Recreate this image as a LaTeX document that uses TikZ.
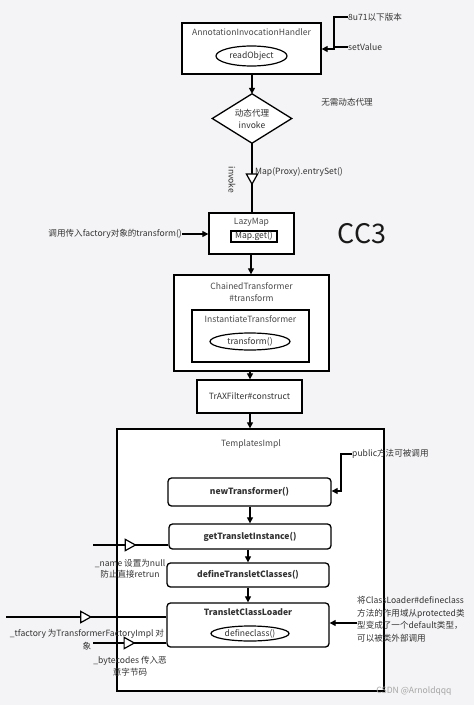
\documentclass[tikz,border=0pt]{standalone}
\usepackage{fontspec}
\setmainfont{Noto Sans CJK SC}
\usetikzlibrary{arrows.meta,shapes.geometric,decorations.markings,calc}
\definecolor{bg}{HTML}{F4F4F6}
\definecolor{txt}{HTML}{333333}
\definecolor{ttl}{HTML}{4A4A4A}
\begin{document}
\begin{tikzpicture}[x=1bp,y=-1bp,
  font=\fontsize{8.6}{11}\selectfont,
  every node/.style={text=txt},
  box/.style={draw=black, line width=1.3bp, fill=white, inner sep=0pt},
  rbox/.style={box, rounded corners=3.5bp, font=\fontsize{8.6}{11}\selectfont\bfseries},
  ell/.style={draw=black, line width=1.2bp, fill=white, ellipse, inner sep=0pt},
  ttlnode/.style={text=ttl, inner sep=0pt},
  arr/.style={line width=1.2bp, -{Triangle[length=6bp,width=6bp]}},
  ln/.style={line width=1.2bp},
  midtri/.style={ln, postaction={decorate}, decoration={markings,
     mark=at position #1 with {\arrow{Triangle[length=12bp,width=13bp,fill=white,line width=1.2bp]}}}},
]
\useasboundingbox (0,0) rectangle (474,705);
\fill[bg] (0,0) rectangle (474,705);

% AnnotationInvocationHandler
\node[box, minimum width=139bp, minimum height=51bp] (aih) at (251.5,48.5) {};
\node[ttlnode] (aihT) at (251.5,32) {AnnotationInvocationHandler};
\node[ell, minimum width=71bp, minimum height=20bp] (ro) at (251.5,56) {readObject};

\node[anchor=west, inner sep=0pt] (u71) at (348,17) {8u71以下版本};
\node[anchor=west, inner sep=0pt] (sv) at (348,47) {setValue};
\coordinate (j1) at (334,17);
\draw[arr] (u71.west) -- (j1) |- (aih.east |- 0,49);
\draw[ln] (sv.west) -- (334,47);

% diamond
\node[minimum width=79bp, minimum height=49bp, inner sep=0pt] (dia) at (252,118.5) {};
\draw[line width=1.3bp, fill=white] (dia.north) -- (dia.east) -- (dia.south) -- (dia.west) -- cycle;
\node[align=center, inner sep=0pt, font=\fontsize{8.6}{12}\selectfont] at (dia.center) {动态代理\\invoke};
\draw[arr] (aih.south -| dia.north) -- (dia.north);
\node[inner sep=0pt] (nodyn) at (347,102) {无需动态代理};

% LazyMap
\node[box, minimum width=85bp, minimum height=41bp] (lazy) at (251.5,233.5) {};
\node[ttlnode] at (251.5,222) {LazyMap};
\node[box, line width=1.1bp, minimum width=46bp, minimum height=11bp] (mg) at (254,236.5) {Map.get()};
\draw[midtri=0.61] (dia.south) -- (dia.south |- lazy.north);
\node[rotate=-90, inner sep=0pt] (invk) at (232,180) {invoke};
\node[anchor=west, inner sep=0pt] (mpes) at (255,172) {Map(Proxy).entrySet()};
\node[anchor=east, inner sep=0pt] (fac) at (182,234) {调用传入factory对象的transform()};
\draw[arr] (fac.east) -- (lazy.west |- fac.east);
\node[inner sep=0pt, font=\fontsize{27}{30}\selectfont, text=black!90] (cc3) at (362,234) {CC3};

% ChainedTransformer
\node[box, minimum width=155bp, minimum height=96bp] (chain) at (251.5,323) {};
\node[ttlnode, align=center, font=\fontsize{8.6}{12}\selectfont] at (251.5,292) {ChainedTransformer\\\#transform};
\node[box, minimum width=117bp, minimum height=52bp] (inst) at (250.5,336) {};
\node[ttlnode] at (250.5,319) {InstantiateTransformer};
\node[ell, minimum width=80bp, minimum height=17bp] (tf) at (250,341.5) {transform()};
\draw[arr] (lazy.south -| 251,0) -- (chain.north -| 251,0);

% TrAXFilter
\node[box, minimum width=105bp, minimum height=33bp] (trax) at (249.5,396.5) {TrAXFilter\#construct};
\draw[arr] (chain.south -| 250,0) -- (trax.north -| 250,0);

% TemplatesImpl
\node[box, minimum width=267bp, minimum height=262bp] (tpl) at (250.5,560) {};
\node[ttlnode] at (251,444) {TemplatesImpl};
\draw[arr] (trax.south -| 250,0) -- (tpl.north -| 250,0);

\node[rbox, minimum width=163bp, minimum height=28bp] (nt) at (249.5,492) {newTransformer()};
\node[rbox, minimum width=162bp, minimum height=25bp] (gti) at (250,536.5) {getTransletInstance()};
\node[rbox, minimum width=162bp, minimum height=24bp] (dtc) at (248,575) {defineTransletClasses()};
\node[rbox, minimum width=162bp, minimum height=44bp] (tcl) at (248,625) {};
\node[inner sep=0pt, font=\fontsize{8.6}{11}\selectfont\bfseries] at (248,612) {TransletClassLoader};
\node[ell, minimum width=78bp, minimum height=15bp] (dc) at (250,633.5) {defineclass()};

\draw[arr] (nt.south -| 250,0) -- (gti.north -| 250,0);
\draw[arr] (gti.south -| 248,0) -- (dtc.north -| 248,0);
\draw[arr] (dtc.south -| 248,0) -- (tcl.north -| 248,0);

\node[anchor=west, inner sep=0pt] (pub) at (352,454) {public方法可被调用};
\draw[arr] (pub.west) -- (341,454) |- (nt.east |- 0,491);

% left inputs
\coordinate (in1) at (93,545);
\draw[midtri=0.58] (in1) -- (in1 -| gti.west);
\node[align=center, inner sep=0pt, font=\fontsize{8.6}{11.5}\selectfont] (lb1) at (130,568.5) {\_name 设置为null\\防止直接retrun};

\coordinate (in2) at (6,617);
\draw[midtri=0.537] (in2) -- (in2 -| tcl.west);
\node[align=center, inner sep=0pt, font=\fontsize{8.6}{12.5}\selectfont] (lb2) at (87,639.5) {\_tfactory 为TransformerFactoryImpl 对\\象};

\coordinate (in3) at (93,643);
\draw[midtri=0.58] (in3) -- (in3 -| tcl.west);
\node[align=center, inner sep=0pt, font=\fontsize{8.6}{12.5}\selectfont] (lb3) at (130,666.5) {\_bytecodes 传入恶\\意字节码};

% right note
\node[anchor=north west, align=left, inner sep=0pt, font=\fontsize{8.6}{12.7}\selectfont] (note) at (357,596) {将ClassLoader\#defineclass\\方法的作用域从protected类\\型变成了一个default类型，\\可以被类外部调用};
\coordinate (nt1) at (357,623);
\draw[arr] (nt1) -- (tcl.east |- nt1);

\node[inner sep=0pt, text=black!35] (wm) at (414,691) {CSDN @Arnoldqqq};
\end{tikzpicture}
\end{document}
